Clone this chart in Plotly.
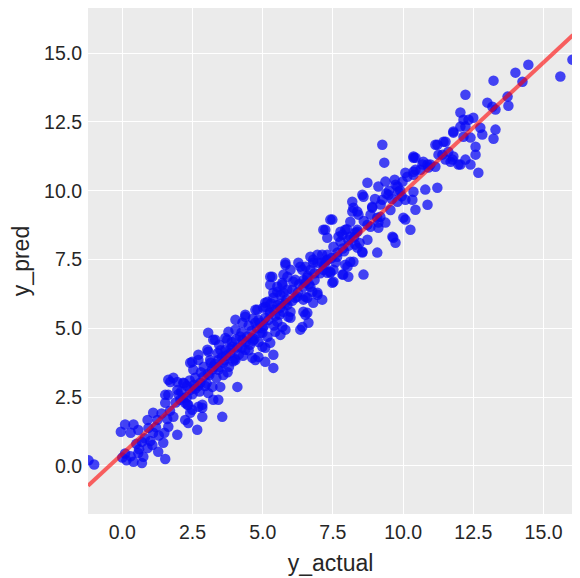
import numpy as np
import plotly.graph_objects as go

# ---- data (y_actual, y_pred pairs) ----
y_actual = [
    -1.2, -1.0,
    -0.05, 0.0, 0.15, 0.3, 0.1, 0.1, 0.4, 0.3, 0.57, 0.9,
    0.93, 0.4, 0.7, 0.7, 0.9, 0.57, 0.75, 0.5, 0.8, 0.6, 1.0,
    1.07, 1.46, 1.28, 1.1, 1.25, 1.53, 1.64, 1.82, 1.53, 1.53,
    1.71, 1.96, 1.96, 1.2, 1.4, 1.6, 1.3, 1.7, 1.9, 1.5,
    1.1, 1.64, 1.82, 1.96, 1.64,
    2.24, 2.35, 2.67, 2.49, 2.85, 2.24, 2.17, 2.07, 2.32, 2.42,
    2.71, 2.85, 2.49, 2.71, 2.17, 2.42, 2.78, 2.89, 2.53, 2.42,
    2.71, 2.85, 2.35, 2.6, 2.8, 2.7, 2.4, 2.3, 2.1, 2.0,
    2.5, 2.9, 2.6, 2.2, 2.95,
    3.06, 3.42, 3.06, 3.31, 3.74, 3.92, 3.42, 3.56, 3.06, 3.24,
    3.13, 3.03, 3.24, 3.67, 3.78, 3.6, 3.67, 3.42, 3.49, 3.21,
    3.5, 3.7, 3.9, 3.8, 3.3, 3.1, 3.0, 3.2, 3.6, 3.4,
    3.55, 3.85, 3.15, 3.35, 3.95, 3.75, 3.45,
    4.03, 4.38, 4.74, 4.28, 4.74, 4.99, 4.1, 4.81, 4.38, 4.03,
    4.28, 4.38, 4.03, 4.63, 4.85, 4.99, 4.63, 4.92, 4.74, 4.1,
    4.2, 4.4, 4.6, 4.5, 4.0, 4.3, 4.8, 4.9, 4.7, 4.5,
    4.15, 4.55, 4.85, 4.25, 4.65,
    5.09, 5.38, 5.09, 5.38, 5.45, 5.7, 5.63, 5.81, 5.38, 5.09,
    5.81, 5.27, 5.7, 5.38, 5.02, 5.17, 5.52, 5.88, 5.99, 5.74,
    5.34, 5.88, 5.7, 5.27, 5.52, 5.88, 5.17, 5.27, 5.09, 5.52,
    5.81, 5.63, 5.27, 5.63, 5.99, 5.91, 5.09, 5.38, 5.74, 5.52,
    5.74, 5.99, 5.81, 5.0, 5.2, 5.4, 5.6, 5.3,
    6.27, 6.7, 6.45, 6.59, 6.34, 6.63, 6.52, 6.34, 6.09, 6.52,
    6.77, 6.59, 6.95, 6.45, 6.52, 6.16, 6.06, 6.23, 6.52, 6.45,
    6.16, 6.41, 6.7, 6.7, 6.95, 6.8, 6.41, 6.8, 6.95, 6.59,
    6.8, 6.95, 6.3, 6.6, 6.85,
    7.12, 7.52, 7.87, 7.12, 7.41, 7.23, 7.77, 7.3, 7.77, 7.41,
    7.3, 7.16, 7.41, 7.3, 7.66, 7.94, 7.48, 7.16, 7.84, 7.52,
    7.7, 7.94, 7.52, 7.12, 7.3, 7.48, 7.84, 7.6, 7.9, 7.2,
    8.12, 8.41, 8.23, 8.9, 8.12, 8.37, 8.73, 8.59, 8.55, 8.23,
    8.37, 8.02, 8.05, 8.73, 8.19, 8.59, 8.84, 8.37, 8.9, 8.3,
    8.55, 8.19, 8.05, 8.3, 8.37, 8.73, 8.84, 8.55, 8.12, 8.6,
    8.0, 8.45,
    9.08, 9.08, 9.26, 9.33, 9.12, 9.37, 9.73, 9.83, 9.12, 9.65,
    9.26, 9.48, 9.73, 9.12, 9.37, 9.19, 9.62, 9.98, 9.8, 9.5,
    9.7, 9.9, 9.6, 9.4, 9.8, 9.2, 9.0, 9.55, 9.95,
    10.15, 10.37, 10.69, 10.44, 10.79, 10.33, 10.44, 10.87, 10.01, 10.26,
    10.08, 10.37, 10.08, 10.37, 10.08, 10.62, 10.87, 10.37, 10.72, 10.44,
    10.9, 10.37, 10.97,
    11.22, 11.15, 11.44, 11.61, 11.26, 11.76, 11.97, 11.79, 11.15, 11.51,
    11.79, 11.69, 11.4, 11.51, 11.79, 11.22,
    12.04, 12.15, 12.04, 12.22, 12.22, 12.04, 12.15, 12.33, 12.5, 12.22,
    12.75, 12.82, 12.4, 12.58, 12.58, 12.4, 12.68,
    13.0, 13.18, 13.29, 13.72, 13.75, 13.29, 13.22, 13.22, 14.0, 14.25,
    14.46, 15.6, 16.03,
    # denser core along the fit line
    2.3, 2.55, 2.75, 3.05, 3.25, 3.45, 3.65, 3.85, 4.05, 4.25,
    4.45, 4.65, 4.85, 5.05, 5.25, 5.45, 5.65, 5.85, 6.05, 6.25,
    6.45, 6.65, 6.85, 7.05, 7.25, 7.45, 7.65, 7.85, 8.05, 8.25,
]

y_pred = [
    0.2, 0.05,
    1.24, 0.3, 0.2, 0.35, 0.45, 1.5, 1.5, 1.2, 1.3, 1.67,
    1.38, 0.15, 0.1, 0.87, 0.65, 0.47, 0.33, 0.8, 1.0, 0.6, 0.9,
    0.76, 0.84, 0.51, 1.93, 1.67, 0.25, 1.42, 1.78, 2.29, 2.58,
    3.05, 3.05, 1.13, 1.4, 1.9, 1.7, 1.1, 2.0, 2.3, 1.2,
    1.2, 3.13, 3.2, 2.76, 2.58,
    1.67, 1.56, 1.31, 2.04, 2.11, 2.29, 2.47, 2.4, 2.22, 1.93,
    2.15, 1.78, 3.78, 4.04, 3.02, 2.76, 3.02, 3.24, 3.49, 3.75,
    3.85, 2.22, 2.22, 3.2, 3.4, 2.9, 3.1, 2.9, 2.7, 2.6,
    2.6, 3.6, 2.8, 3.0, 2.9,
    4.15, 3.85, 4.84, 4.58, 4.58, 4.33, 2.4, 1.78, 2.65, 2.4,
    3.85, 4.22, 4.58, 4.65, 4.87, 3.75, 4.22, 3.49, 2.87, 2.87,
    4.2, 4.0, 4.5, 3.6, 3.7, 3.3, 3.0, 3.5, 3.3, 4.1,
    3.95, 4.1, 3.75, 3.2, 3.8, 3.4, 4.4,
    5.31, 5.42, 5.67, 5.2, 3.85, 4.84, 2.87, 5.67, 5.49, 4.95,
    4.58, 4.22, 3.85, 3.93, 3.96, 4.33, 4.65, 4.84, 5.2, 4.3,
    4.7, 4.5, 4.9, 4.2, 3.9, 4.0, 5.0, 5.2, 4.6, 5.1,
    4.05, 4.4, 4.5, 4.85, 5.35,
    3.78, 3.56, 4.29, 4.04, 4.87, 5.05, 6.22, 5.93, 5.67, 5.78,
    7.38, 6.87, 6.65, 6.29, 5.75, 5.96, 5.85, 5.85, 5.38, 5.6,
    6.87, 6.87, 6.58, 6.58, 6.33, 6.4, 4.69, 4.47, 5.38, 5.24,
    4.95, 4.76, 5.6, 5.75, 5.6, 5.42, 5.93, 6.11, 6.29, 6.51,
    6.95, 7.13, 7.31, 5.0, 5.3, 5.1, 5.5, 5.9,
    7.38, 7.6, 6.04, 5.56, 4.95, 5.2, 7.24, 7.24, 6.69, 6.65,
    6.33, 6.11, 6.22, 5.6, 5.49, 6.11, 6.4, 6.15, 6.15, 6.51,
    6.76, 7.13, 7.13, 6.51, 6.29, 5.93, 5.05, 7.49, 7.38, 6.84,
    7.38, 7.67, 6.6, 6.9, 7.0,
    7.67, 6.69, 6.95, 6.04, 8.95, 8.58, 8.51, 8.29, 8.15, 7.05,
    7.67, 7.13, 7.02, 7.49, 7.75, 7.31, 8.95, 8.58, 8.4, 7.96,
    8.33, 8.58, 7.13, 7.38, 7.02, 6.65, 6.95, 7.4, 7.8, 7.3,
    8.87, 9.13, 9.38, 9.38, 8.33, 8.51, 8.76, 6.95, 7.78, 7.42,
    7.93, 7.24, 6.87, 10.29, 9.6, 9.78, 9.13, 9.24, 9.42, 8.47,
    9.85, 9.24, 8.22, 8.04, 8.58, 8.22, 8.69, 7.75, 7.42, 8.9,
    8.6, 8.1,
    9.02, 7.75, 11.67, 11.02, 10.15, 10.33, 10.22, 9.96, 8.84, 8.29,
    9.67, 9.85, 8.11, 8.65, 8.84, 9.05, 8.33, 10.33, 10.15, 10.0,
    10.4, 10.0, 9.7, 9.9, 9.6, 9.5, 9.7, 9.3, 9.8,
    10.51, 11.24, 10.95, 10.76, 10.04, 9.67, 9.31, 9.49, 9.02, 8.58,
    8.95, 9.96, 9.67, 10.58, 10.65, 10.76, 10.95, 11.2, 11.05, 11.2,
    10.84, 10.69, 10.95,
    10.11, 11.67, 11.78, 11.42, 11.31, 11.13, 10.95, 12.15, 10.87, 11.78,
    12.11, 11.05, 11.31, 11.13, 11.24, 11.67,
    12.33, 11.96, 10.95, 11.13, 13.49, 12.84, 12.58, 12.58, 12.65, 12.33,
    12.29, 12.04, 11.93, 11.6, 11.31, 10.95, 10.65,
    13.2, 13.05, 12.95, 13.42, 13.09, 12.22, 11.89, 14.0, 14.29, 13.96,
    14.58, 14.15, 14.76,
    # denser core along the fit line
    2.5, 2.95, 2.7, 3.35, 3.6, 3.6, 3.85, 4.25, 4.6, 4.3,
    4.7, 4.55, 5.3, 5.1, 5.55, 5.45, 5.9, 6.05, 6.0, 6.3,
    6.75, 6.6, 6.75, 7.0, 7.45, 7.55, 7.6, 7.9, 8.0, 8.3,
]

x_range = [-1.22, 16.05]
y_range = [-1.75, 16.64]
tick_vals = [0.0, 2.5, 5.0, 7.5, 10.0, 12.5, 15.0]
tick_text = ["0.0", "2.5", "5.0", "7.5", "10.0", "12.5", "15.0"]

xa = np.array(y_actual)
ya = np.array(y_pred)
slope, intercept = np.polyfit(xa, ya, 1)
line_x = np.array(x_range)
line_y = slope * line_x + intercept

font_family = "Liberation Sans, Arial, sans-serif"

fig = go.Figure()
fig.add_trace(go.Scatter(
    x=xa, y=ya, mode="markers",
    marker=dict(size=10.5, color="rgb(10,10,245)", opacity=0.75, line=dict(width=0)),
    showlegend=False, hoverinfo="skip",
))
fig.add_trace(go.Scatter(
    x=line_x, y=line_y, mode="lines",
    line=dict(color="rgba(255,0,0,0.6)", width=4),
    showlegend=False, hoverinfo="skip",
))

axis_common = dict(
    showgrid=True, gridcolor="white", gridwidth=1.3,
    zeroline=False, showline=False, ticks="", automargin=False,
    tickvals=tick_vals, ticktext=tick_text,
    tickfont=dict(family=font_family, size=19.5, color="#262626"),
)

# the page body adds an 8px offset, so the figure is sized to fit the window
fig.update_layout(
    width=572, height=570,
    margin=dict(l=80, r=7, t=0, b=64),
    paper_bgcolor="white", plot_bgcolor="#EBEBEB",
    font=dict(family=font_family, color="#262626"),
    xaxis=dict(range=x_range,
               title=dict(text="y_actual", font=dict(size=23, color="#262626"), standoff=13),
               ticklabelstandoff=4, **axis_common),
    yaxis=dict(range=y_range,
               title=dict(text="y_pred", font=dict(size=23, color="#262626"), standoff=16),
               ticklabelstandoff=5, **axis_common),
)

fig.write_html("out.html")
